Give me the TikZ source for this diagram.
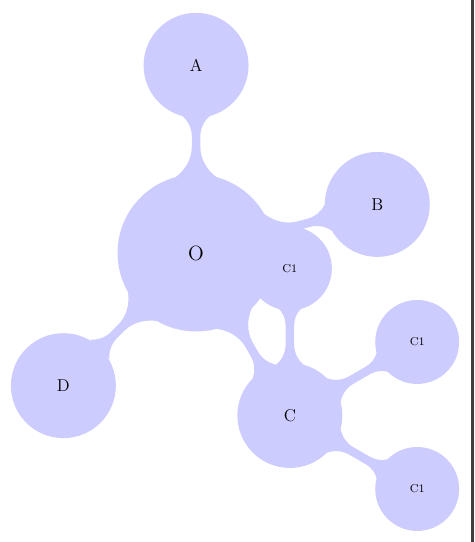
\documentclass[tikz,border=0pt]{standalone}
\usetikzlibrary{calc}
\newcommand\conbar[4]{%
  \path let \p1=($(#2.center)-(#1.center)$) in
    \pgfextra{\pgfmathsetmacro\cbAng{atan2(\y1,\x1)}\pgfmathsetmacro\cbLen{veclen(\x1,\y1)}%
      \xdef\conbarA{\cbAng}\xdef\conbarD{\cbLen}};
  \begin{scope}[shift={(#1.center)}, rotate=\conbarA, x=1pt, y=1pt]
    \pgfmathsetmacro\cbW{3.0}
    \pgfmathsetmacro\cbHa{0.26*#3}\pgfmathsetmacro\cbXa{0.96561*#3}\pgfmathsetmacro\cbNa{1.35*#3}
    \pgfmathsetmacro\cbHb{0.26*#4}\pgfmathsetmacro\cbXb{\conbarD-0.96561*#4}\pgfmathsetmacro\cbNb{\conbarD-1.35*#4}
    \pgfmathsetmacro\cbPa{\cbXa+0.2*(\cbNa-\cbXa)}\pgfmathsetmacro\cbQa{\cbXa+0.55*(\cbNa-\cbXa)}
    \pgfmathsetmacro\cbPb{\cbXb-0.2*(\cbXb-\cbNb)}\pgfmathsetmacro\cbQb{\cbXb-0.55*(\cbXb-\cbNb)}
    \pgfmathsetmacro\cbMa{\cbW+0.5*(\cbHa-\cbW)}\pgfmathsetmacro\cbMb{\cbW+0.5*(\cbHb-\cbW)}
    \fill[barfill] (\cbXa,\cbHa) .. controls (\cbPa,\cbMa) and (\cbQa,\cbW) .. (\cbNa,\cbW)
      -- (\cbNb,\cbW) .. controls (\cbQb,\cbW) and (\cbPb,\cbMb) .. (\cbXb,\cbHb)
      -- (\cbXb,-\cbHb) .. controls (\cbPb,-\cbMb) and (\cbQb,-\cbW) .. (\cbNb,-\cbW)
      -- (\cbNa,-\cbW) .. controls (\cbQa,-\cbW) and (\cbPa,-\cbMa) .. (\cbXa,-\cbHa) -- cycle;
  \end{scope}}
\begin{document}
\begin{tikzpicture}[
  barfill/.style={fill=blue!20},
  bub/.style={circle, fill=blue!20, draw=none, text=black,
    inner sep=1pt, outer sep=0pt, align=center},
  rootbub/.style={bub, minimum size=109.8pt, font=\Large},
  onebub/.style={bub, minimum size=73.4pt, font=\large},
  twobub/.style={bub, minimum size=58.7pt, font=\footnotesize}]
\useasboundingbox (-137.1pt,-202.1pt) rectangle (194.4pt,176.9pt);
\fill[black!75] (192.0pt,-202.1pt) rectangle (194.4pt,176.9pt);
\node[rootbub] (O) at (0,0) {O};
\node[onebub] (A) at (90:131.2pt) {A};
\node[onebub] (B) at (15:131.2pt) {B};
\node[onebub] (C) at (-60:131.2pt) {C};
\node[onebub] (D) at (225:131.2pt) {D};
\node[twobub] (C1a) at ($(C)+(90:102.8pt)$) {C1};
\node[twobub] (C1b) at ($(C)+(30:102.8pt)$) {C1};
\node[twobub] (C1c) at ($(C)+(-30:102.8pt)$) {C1};
\conbar{O}{A}{54.9}{36.7}
\conbar{O}{B}{54.9}{36.7}
\conbar{O}{C}{54.9}{36.7}
\conbar{O}{D}{54.9}{36.7}
\conbar{C}{C1a}{36.7}{29.35}
\conbar{C}{C1b}{36.7}{29.35}
\conbar{C}{C1c}{36.7}{29.35}
\end{tikzpicture}
\end{document}
